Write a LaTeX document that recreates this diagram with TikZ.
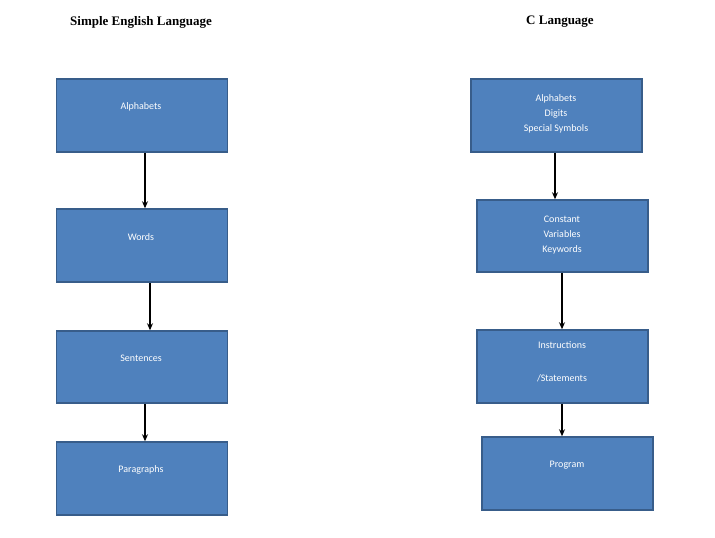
\documentclass[tikz,border=0pt]{standalone}
\usepackage{fontspec}
\setmainfont{Liberation Serif}
\newfontfamily\boxfont{Carlito}
\usetikzlibrary{arrows.meta}
\definecolor{boxfill}{HTML}{4F81BD}
\definecolor{boxline}{HTML}{385D8A}
\begin{document}
\begin{tikzpicture}[x=1pt,y=-1pt,
  box/.style={draw=boxline,line width=1.5pt,fill=boxfill,inner sep=0pt,minimum width=#1},
  box/.default=171pt,
  lbl/.style={text=white,font=\boxfont\fontsize{10}{12}\selectfont,inner sep=0pt,align=center},
  ttl/.style={font=\bfseries\fontsize{13}{15}\selectfont,inner sep=0pt},
  conn/.style={-{Stealth[length=7pt,width=6pt]},line width=1.6pt}]
\useasboundingbox (0,0) rectangle (715,538);
\fill[white] (0,0) rectangle (715,538);
\node[ttl] (t1) at (141,22) {Simple English Language};
\node[ttl] (t2) at (560,22) {C Language};
% left
\node[box,minimum height=73pt] (a1) at (142,115.5) {};
\node[box,minimum height=73pt] (a2) at (142,245.5) {};
\node[box,minimum height=72pt] (a3) at (142,367) {};
\node[box,minimum height=73pt] (a4) at (142,478.5) {};
\node[lbl] (l1) at (141,107) {Alphabets};
\node[lbl] (l2) at (141,237) {Words};
\node[lbl] (l3) at (141,358) {Sentences};
\node[lbl] (l4) at (141,470) {Paragraphs};
% right
\node[box,minimum height=73pt] (b1) at (556.5,115.5) {};
\node[box,minimum height=72pt] (b2) at (562.5,236) {};
\node[box,minimum height=73pt] (b3) at (562.5,366.5) {};
\node[box,minimum height=73pt] (b4) at (567.5,473.5) {};
\node[lbl,align=center] (r1) at (556,114) {Alphabets\\[3pt]Digits\\[3pt]Special Symbols};
\node[lbl,align=center] (r2) at (562,235) {Constant\\[3pt]Variables\\[3pt]Keywords};
\node[lbl] (r3a) at (562,345) {Instructions};
\node[lbl] (r3b) at (562,378) {/Statements};
\node[lbl] (r4) at (567,465) {Program};
% arrows
\draw[conn] (a1.south -| 145,0) -- (a2.north -| 145,0);
\draw[conn] (a2.south -| 150,0) -- (a3.north -| 150,0);
\draw[conn] (a3.south -| 145,0) -- (a4.north -| 145,0);
\draw[conn] (b1.south -| 555,0) -- (b2.north -| 555,0);
\draw[conn] (b2.south -| 562,0) -- (b3.north -| 562,0);
\draw[conn] (b3.south -| 562,0) -- (b4.north -| 562,0);
\end{tikzpicture}
\end{document}
